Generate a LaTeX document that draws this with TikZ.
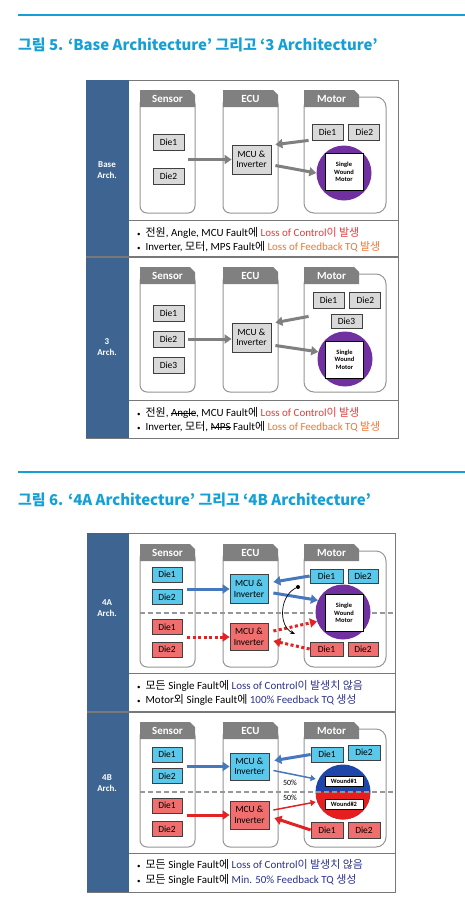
\documentclass[tikz,border=0pt]{standalone}
\usepackage{fontspec}
\setmainfont{Carlito}
\newfontfamily\krfont{Noto Sans CJK KR}
\newcommand{\kr}[1]{{\krfont #1}}
\newcommand{\strikeout}[1]{\setbox0\hbox{#1}\rlap{\rule[0.55ex]{\wd0}{0.6pt}}\box0\relax}
\newcommand{\dotmark}{{\fontsize{7}{8}\selectfont •}}
\usetikzlibrary{positioning}
\usetikzlibrary{arrows.meta}

\definecolor{titlecyan}{RGB}{20,160,214}
\definecolor{bandblue}{RGB}{62,100,145}
\definecolor{tabgray}{RGB}{128,128,128}
\definecolor{colgray}{RGB}{150,150,150}
\definecolor{framegray}{RGB}{120,120,120}
\definecolor{diegray}{RGB}{64,64,64}
\definecolor{dielight}{RGB}{217,217,217}
\definecolor{dieblue}{RGB}{90,200,235}
\definecolor{diered}{RGB}{240,110,110}
\definecolor{motorpurple}{RGB}{112,48,160}
\definecolor{arrowgray}{RGB}{128,128,128}
\definecolor{arrowblue}{RGB}{70,120,190}
\definecolor{arrowred}{RGB}{225,35,35}
\definecolor{woundblue}{RGB}{30,70,170}
\definecolor{woundred}{RGB}{230,30,30}
\definecolor{txtred}{RGB}{232,60,60}
\definecolor{txtorange}{RGB}{240,120,50}
\definecolor{txtnavy}{RGB}{45,50,140}

\begin{document}
\begin{tikzpicture}[x=1bp, y=-1bp,
    figtitle/.style={anchor=west, text=titlecyan, font=\krfont\bfseries\fontsize{15}{17}\selectfont, inner sep=0},
    bandlabel/.style={text=white, font=\bfseries\fontsize{9}{10.5}\selectfont, align=center},
    colbox/.style={draw=colgray, line width=1bp, fill=white, rounded corners=7bp},
    tablabel/.style={text=white, font=\bfseries\fontsize{11}{12}\selectfont, inner sep=0},
    die/.style={rectangle, draw=diegray, fill=dielight, line width=0.8bp, minimum width=31bp, minimum height=16bp, inner sep=0, font=\fontsize{9.5}{10.5}\selectfont},
    bdie/.style={die, fill=dieblue},
    rdie/.style={die, fill=diered},
    mcu/.style={die, minimum width=39bp, minimum height=29bp, align=center},
    motor/.style={circle, fill=motorpurple, minimum size=55bp, inner sep=0},
    wound/.style={rectangle, draw=black, fill=white, line width=0.8bp, minimum width=38bp, minimum height=37bp, inner sep=0, align=center, font=\bfseries\fontsize{6.5}{7.5}\selectfont},
    woundtag/.style={wound, minimum height=10bp},
    garrow/.style={draw=arrowgray, line width=3bp, -{Triangle[length=7bp,width=9bp]}},
    barrow/.style={garrow, draw=arrowblue},
    rarrow/.style={garrow, draw=arrowred},
    rdots/.style={rarrow, dash pattern=on 3bp off 2.5bp},
    thinb/.style={draw=arrowblue, line width=1.5bp, -{Triangle[length=5bp,width=6bp]}},
    thinr/.style={thinb, draw=arrowred},
    note/.style={anchor=west, inner sep=0, font=\fontsize{11}{12}\selectfont},
    pct/.style={inner sep=0, font=\fontsize{8}{9}\selectfont},
    midline/.style={draw=colgray, line width=1.5bp, dash pattern=on 5bp off 3bp}
]
    \useasboundingbox [fill=white] (0,0) rectangle (465,907);

    \draw [titlecyan, line width=2bp] (18,15) -- (465,15);
    \node (title5) [figtitle] at (18,45) {그림 5. ‘Base Architecture’ 그리고 ‘3 Architecture’};
    \draw [titlecyan, line width=2bp] (18,472) -- (465,472);
    \node (title6) [figtitle] at (18,500) {그림 6. ‘4A Architecture’ 그리고 ‘4B Architecture’};

    \draw [framegray, line width=1bp] (86,80) rectangle (398,438);
    \fill [bandblue] (86,80) rectangle (129,438);
    \draw [framegray, line width=1.5bp] (86,257) -- (398,257);
    \draw [framegray] (129,220) -- (398,220);
    \draw [framegray] (129,400) -- (398,400);

    \draw [framegray, line width=1bp] (87,533) rectangle (395,892);
    \fill [bandblue] (87,533) rectangle (129,892);
    \draw [framegray, line width=1.5bp] (87,712) -- (395,712);
    \draw [framegray] (129,673) -- (395,673);
    \draw [framegray] (129,853) -- (395,853);

    \node (band1) [bandlabel] at (107,170) {Base\\Arch.};
    \node (band2) [bandlabel] at (107,347) {3\\Arch.};
    \node (band3) [bandlabel] at (107,608) {4A\\Arch.};
    \node (band4) [bandlabel] at (107,783) {4B\\Arch.};

    \foreach \t/\b/\p in {90/213/a, 267/392/b, 544/667/c, 722/847/d} {
        \draw [colbox] (140,\t+7) rectangle (195,\b);
        \draw [colbox] (223,\t+7) rectangle (278,\b);
        \draw [colbox, rounded corners=10bp] (304,\t+7) rectangle (386,\b);
        \foreach \xa/\xb in {140/195, 223/278, 304/359}
            \fill [tabgray] (\xa,\t) -- (\xb-5,\t) -- (\xb,\t+5) -- (\xb,\t+17) -- (\xa,\t+17) -- cycle;
        \node (sensor\p) [tablabel] at (167.5,\t+9) {Sensor};
        \node (ecu\p) [tablabel] at (250.5,\t+9) {ECU};
        \node (motor\p) [tablabel] at (331.5,\t+9) {Motor};
    }

    \draw [midline] (140,613) -- (395,613);

    \node (s1d1) [die] at (168.5,142.5) {Die1};
    \node (s1d2) [die] at (168.5,176) {Die2};
    \node (e1mcu) [mcu] at (251.5,159.5) {MCU \&\\Inverter};
    \node (m1d1) [die] at (327.5,132) {Die1};
    \node (m1d2) [die, right=5bp of m1d1] {Die2};
    \node (m1mot) [motor] at (344,173) {};
    \node (m1box) [wound] at (344,172) {Single\\Wound\\Motor};
    \draw [garrow] ([xshift=4bp]s1d1.east |- e1mcu.west) -- (e1mcu.west);
    \draw [garrow] ([xshift=-3bp]m1d1.south west) -- ([xshift=4bp]e1mcu.north east);
    \draw [garrow] ([shift={(4,6)}]e1mcu.east) -- (m1mot.west);

    \node (s2d1) [die] at (168.5,313) {Die1};
    \node (s2d2) [die] at (168.5,339) {Die2};
    \node (s2d3) [die] at (168.5,365) {Die3};
    \node (e2mcu) [mcu] at (251.5,337.5) {MCU \&\\Inverter};
    \node (m2d1) [die] at (328.5,300) {Die1};
    \node (m2d2) [die, right=5bp of m2d1] {Die2};
    \node (m2d3) [die, minimum height=14bp] at (346.5,321.5) {Die3};
    \node (m2mot) [motor] at (345,359) {};
    \node (m2box) [wound] at (344.5,359.5) {Single\\Wound\\Motor};
    \draw [garrow] ([xshift=4bp]s2d2.east) -- (e2mcu.west |- s2d2.east);
    \draw [garrow] ([shift={(-4,8)}]m2d1.south west) -- ([xshift=4bp]e2mcu.north east);
    \draw [garrow] ([shift={(4,8)}]e2mcu.east) -- (m2mot.165);

    \node (s3d1) [bdie, minimum width=30bp, minimum height=15bp] at (167,574.5) {Die1};
    \node (s3d2) [bdie, minimum width=30bp, minimum height=15bp] at (167,597) {Die2};
    \node (s3r1) [rdie, minimum width=30bp, minimum height=15bp] at (167,627) {Die1};
    \node (s3r2) [rdie, minimum width=30bp, minimum height=15bp] at (167,649.5) {Die2};
    \node (e3mcu) [mcu, fill=dieblue, minimum width=38bp] at (249,589) {MCU \&\\Inverter};
    \node (e3red) [mcu, fill=diered, minimum width=38bp, minimum height=27bp] at (249,637) {MCU \&\\Inverter};
    \node (m3d1) [bdie, minimum width=33bp, minimum height=14bp] at (326.5,576) {Die1};
    \node (m3d2) [bdie, minimum width=30bp, minimum height=14bp] at (363,576) {Die2};
    \node (m3mot) [motor] at (343,612) {};
    \node (m3box) [wound] at (344,613) {Single\\Wound\\Motor};
    \node (m3r1) [rdie, minimum width=33bp, minimum height=14bp] at (326.5,649) {Die1};
    \node (m3r2) [rdie, minimum width=30bp, minimum height=14bp] at (363,649) {Die2};
    \draw [barrow] ([xshift=5bp]s3d2.east |- e3mcu.west) -- (e3mcu.west);
    \draw [barrow] (m3d1.west) -- ([shift={(5,-7)}]e3mcu.east);
    \draw [barrow] ([shift={(5,4)}]e3mcu.east) -- (m3mot.155);
    \draw [rdots] ([xshift=5bp]s3r1.east |- e3red.west) -- (e3red.west);
    \draw [rdots] ([shift={(5,-6)}]e3red.east) -- (m3mot.200);
    \draw [rdots] (m3r1.west) -- ([shift={(5,4)}]e3red.east);
    \coordinate (turn1) at (298,587);
    \coordinate (turn2) at (295,634);
    \fill (turn1) circle (2bp);
    \draw [line width=0.7bp, -{Stealth[length=5bp]}] (turn1) .. controls (279,594) and (278,626) .. (turn2);

    \node (s4d1) [bdie, minimum width=30bp, minimum height=15bp] at (167,754.5) {Die1};
    \node (s4d2) [bdie, minimum width=30bp, minimum height=15bp] at (167,776) {Die2};
    \node (s4r1) [rdie, minimum width=30bp, minimum height=15bp] at (167,805.5) {Die1};
    \node (s4r2) [rdie, minimum width=30bp, minimum height=15bp] at (167,829) {Die2};
    \node (e4mcu) [mcu, fill=dieblue, minimum height=27bp] at (249.5,766.5) {MCU \&\\Inverter};
    \node (e4red) [mcu, fill=diered, minimum height=28bp] at (249.5,815) {MCU \&\\Inverter};
    \node (m4d1) [bdie, minimum width=32bp, minimum height=15bp] at (327,754.5) {Die1};
    \node (m4d2) [bdie, minimum width=32bp, minimum height=15bp] at (364,752.5) {Die2};
    \node (m4r1) [rdie, minimum width=32bp, minimum height=16bp] at (327,830) {Die1};
    \node (m4r2) [rdie, minimum width=32bp, minimum height=16bp] at (364,830) {Die2};
    \node (m4mot) [motor, fill=woundblue, path picture={\fill [woundred] (path picture bounding box.west) rectangle (path picture bounding box.south east);}] at (343,792) {};
    \draw [midline] (140,792) -- (395,792);
    \node (w4a) [woundtag] at (344,781) {Wound\#1};
    \node (w4b) [woundtag] at (344,804) {Wound\#2};
    \node (pct1) [pct] at (290,783) {50\%};
    \node (pct2) [pct] at (290,798) {50\%};
    \draw [barrow] ([xshift=5bp]s4d1.east |- e4mcu.west) -- (e4mcu.west);
    \draw [barrow] (m4d1.west) -- ([shift={(5,-6)}]e4mcu.east);
    \draw [thinb] ([shift={(4,4)}]e4mcu.east) -- ([shift={(-9,-2)}]w4a.west);
    \draw [rarrow] ([xshift=5bp]s4r1.east |- e4red.west) -- (e4red.west);
    \draw [thinr] ([shift={(4,-5)}]e4red.east) -- ([shift={(-9,-2)}]w4b.west);
    \draw [rarrow] (m4r1.west) -- ([shift={(5,3)}]e4red.east);

    \node (n1a) [note] at (137,233) {\dotmark\ \ \kr{전원}, Angle, MCU Fault\kr{에} \textcolor{txtred}{Loss of Control\kr{이 발생}}};
    \node (n1b) [note] at (137,247) {\dotmark\ \ Inverter, \kr{모터}, MPS Fault\kr{에} \textcolor{txtorange}{Loss of Feedback TQ \kr{발생}}};
    \node (n2a) [note] at (137,413) {\dotmark\ \ \kr{전원}, \strikeout{Angle}, MCU Fault\kr{에} \textcolor{txtred}{Loss of Control\kr{이 발생}}};
    \node (n2b) [note] at (137,427) {\dotmark\ \ Inverter, \kr{모터}, \strikeout{MPS} Fault\kr{에} \textcolor{txtorange}{Loss of Feedback TQ \kr{발생}}};
    \node (n3a) [note] at (137,686) {\dotmark\ \ \kr{모든} Single Fault\kr{에} \textcolor{txtnavy}{Loss of Control\kr{이 발생치 않음}}};
    \node (n3b) [note] at (137,700) {\dotmark\ \ Motor\kr{외} Single Fault\kr{에} \textcolor{txtnavy}{100\% Feedback TQ \kr{생성}}};
    \node (n4a) [note] at (137,865) {\dotmark\ \ \kr{모든} Single Fault\kr{에} \textcolor{txtnavy}{Loss of Control\kr{이 발생치 않음}}};
    \node (n4b) [note] at (137,880) {\dotmark\ \ \kr{모든} Single Fault\kr{에} \textcolor{txtnavy}{Min. 50\% Feedback TQ \kr{생성}}};
\end{tikzpicture}
\end{document}
